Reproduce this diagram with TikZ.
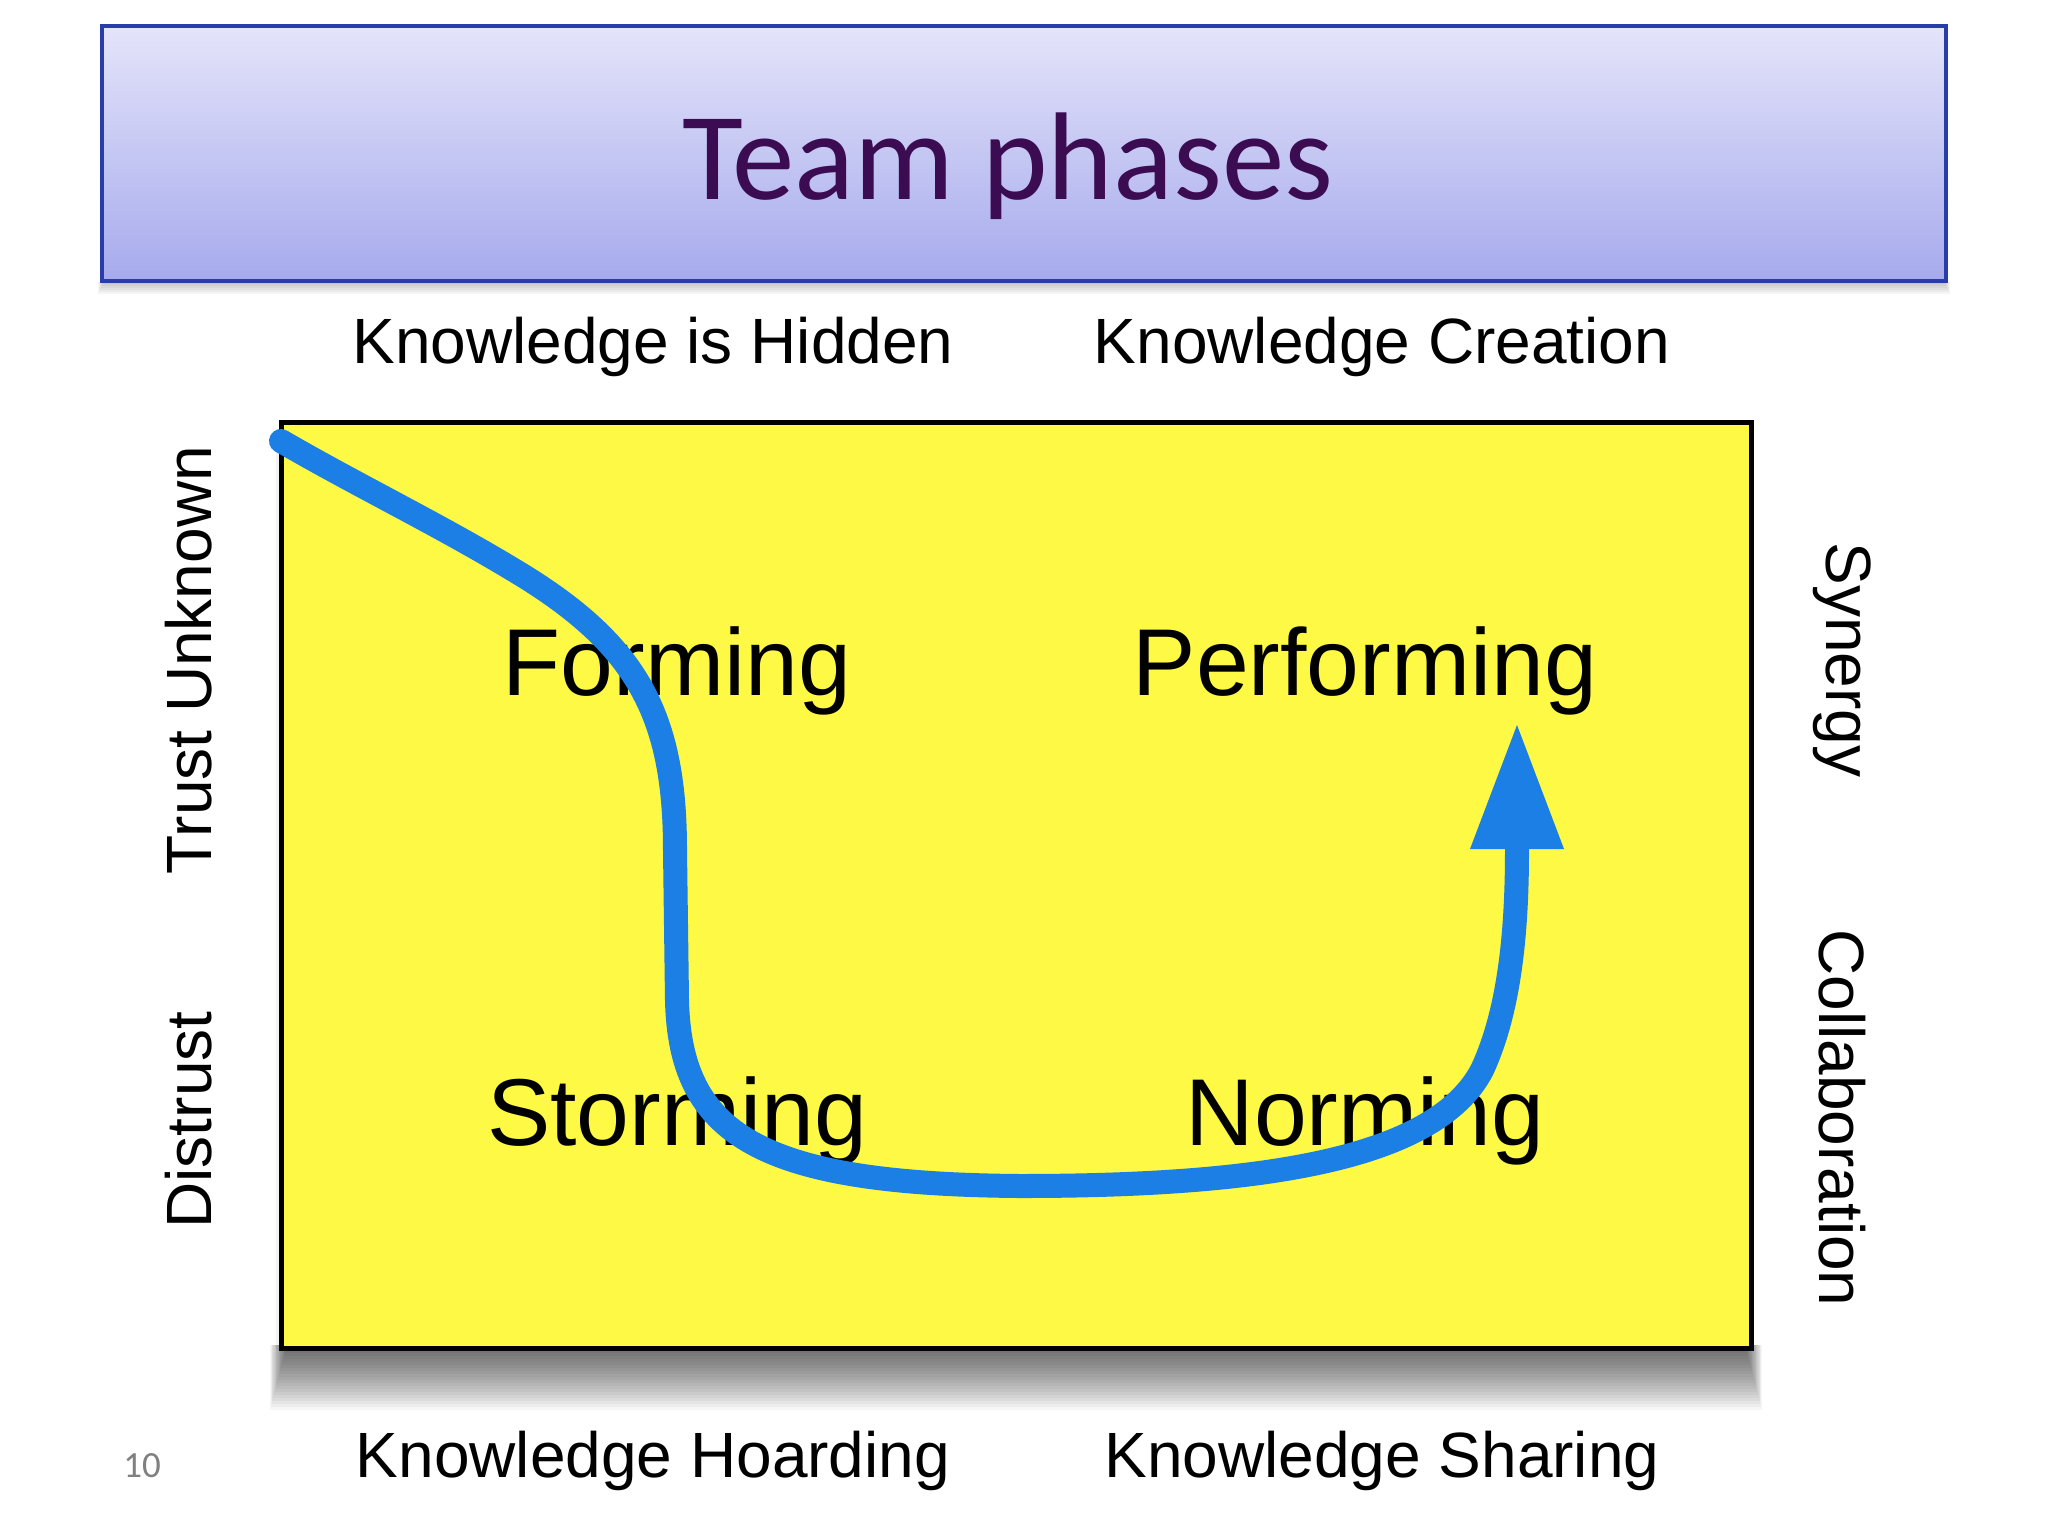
\documentclass[tikz,border=0pt]{standalone}
\usepackage{fontspec}
\setmainfont{Liberation Sans}
\newfontfamily\titlefont{Carlito}
\usepackage{xcolor}
\usetikzlibrary{arrows.meta, positioning}

\definecolor{barTop}{RGB}{228,228,250}
\definecolor{barBottom}{RGB}{166,170,236}
\definecolor{barEdge}{RGB}{40,60,170}
\definecolor{titleInk}{RGB}{60,12,82}
\definecolor{padYellow}{RGB}{253,249,68}
\definecolor{pathBlue}{RGB}{27,127,229}

\begin{document}
\begin{tikzpicture}[
    x=0.01cm, y=-0.01cm,
    axislabel/.style={font=\fontsize{18.2}{20}\selectfont, text=black},
    phase/.style={font=\fontsize{27}{30}\selectfont, text=black},
    route/.style={line width=0.24cm, draw=pathBlue, line cap=round,
        -{Triangle[length=1.24cm, width=0.94cm, sharp, line width=0pt]}}
]
    \useasboundingbox[fill=white] (0,0) rectangle (2048,1536);

    % title bar
    \foreach \i in {1,...,6}
        \fill[black, opacity=0.04] (104-\i,282) rectangle (1944+\i,282+\i*2);
    \shade[top color=barTop, bottom color=barBottom, draw=barEdge, line width=0.4mm]
        (102,26) rectangle (1946,281);
    \node[font=\titlefont\fontsize{35.5}{38}\selectfont, text=titleInk] (title) at (1008,166) {Team phases};

    % shadow of the board
    \foreach \i in {1,...,20}
        \fill[black, opacity=0.035] (286-\i*0.8,1345) rectangle (1746+\i*0.8,1350+\i*3);
    \fill[black, opacity=0.05] (276,430) rectangle (284,1350);

    % board
    \draw[fill=padYellow, line width=0.5mm] (281,422) rectangle (1751,1348);
    \coordinate (start) at (281,441);
    \coordinate (tip) at (1517,725);

    % phase names
    \node[phase] (forming) at (677,671) {Forming};
    \node[phase] (performing) at (1365,671) {Performing};
    \node[phase] (storming) at (677,1121) {Storming};
    \node[phase] (norming) at (1365,1121) {Norming};

    % route through the phases
    \draw[route] (start)
        .. controls (360,487) and (450,530) .. (530,580)
        .. controls (640,650) and (675,720) .. (675,850)
        -- (677,1000)
        .. controls (680,1135) and (760,1184) .. (1020,1186)
        .. controls (1260,1186) and (1435,1160) .. (1482,1070)
        .. controls (1510,1010) and (1517,930) .. (1517,850)
        -- (tip);

    % axis labels
    \node[axislabel] (hidden) at (653,347) {Knowledge is Hidden};
    \node[axislabel] (creation) at (1382,347) {Knowledge Creation};
    \node[axislabel] (hoarding) at (653,1461) {Knowledge Hoarding};
    \node[axislabel] (sharing) at (1382,1461) {Knowledge Sharing};
    \node[axislabel, rotate=90] (trust) at (189,660) {Trust Unknown};
    \node[axislabel, rotate=90] (distrust) at (189,1120) {Distrust};
    \node[axislabel, rotate=-90] (synergy) at (1842,660) {Synergy};
    \node[axislabel, rotate=-90] (collab) at (1842,1118) {Collaboration};

    \node[font=\titlefont\fontsize{10.5}{12}\selectfont, text=black!50] (pageno) at (142,1466) {10};
\end{tikzpicture}
\end{document}
